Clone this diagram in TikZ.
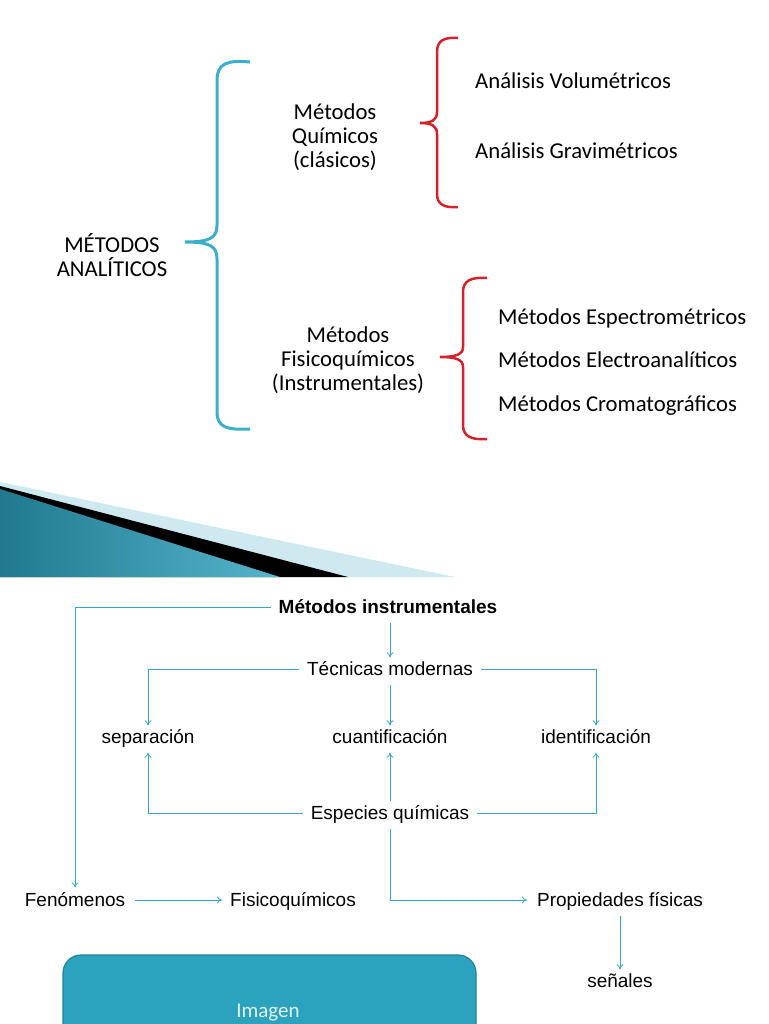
\documentclass[tikz,border=0pt]{standalone}
\usepackage{fontspec}
\setmainfont{Carlito}
\newfontfamily\arialf{Liberation Sans}
\usetikzlibrary{arrows.meta}
\definecolor{cy}{HTML}{3AA6C4}
\definecolor{bb}{HTML}{3AAECB}
\definecolor{rb}{HTML}{D6202C}
\definecolor{bx}{HTML}{2BA2BE}
\begin{document}
\begin{tikzpicture}[x=1pt,y=-1pt,
  tt/.style={font=\fontsize{22.7}{24}\selectfont,align=center,inner sep=1pt},
  tl/.style={font=\fontsize{22.7}{24}\selectfont,anchor=west,inner sep=0pt},
  bt/.style={font=\arialf\fontsize{19}{22}\selectfont,inner sep=2pt,text height=13pt,text depth=4pt},
  ar/.style={cy,line width=0.8pt,-{To[length=5pt,width=7pt]}}]
\useasboundingbox (0,0) rectangle (768,1024);
% braces
\draw[bb,line width=3pt] (250,62) .. controls (228,60) and (217,63) .. (217,80) -- (217,225) .. controls (217,238) and (210,242) .. (185,242) .. controls (210,242) and (217,246) .. (217,259) -- (217,412) .. controls (217,428) and (228,430) .. (250,429);
\draw[rb,line width=2.5pt] (458,38) .. controls (445,37) and (437,40) .. (437,52) -- (437,112) .. controls (437,120) and (432,123) .. (420,123) .. controls (432,123) and (437,126) .. (437,134) -- (437,194) .. controls (437,205) and (445,208) .. (458,207);
\draw[rb,line width=2.5pt] (487,278) .. controls (472,277) and (463,280) .. (463,292) -- (463,347) .. controls (463,354) and (457,357) .. (440,357) .. controls (457,357) and (463,360) .. (463,367) -- (463,425) .. controls (463,437) and (472,440) .. (487,439);
\node[tt] (ma) at (112,255) {MÉTODOS\\ANALÍTICOS};
\node[tt] (mq) at (335,137) {Métodos\\Químicos\\(clásicos)};
\node[tl] (av) at (475,81) {Análisis Volumétricos};
\node[tl] (ag) at (475,151) {Análisis Gravimétricos};
\node[tt] (mf) at (348,360) {Métodos\\Fisicoquímicos\\(Instrumentales)};
\node[tl] (me) at (498,318) {Métodos Espectrométricos};
\node[tl] (mel) at (498,360) {Métodos Electroanalíticos};
\node[tl] (mc) at (498,406) {Métodos Cromatográficos};
% wedge
\fill[cy!25] (0,482) -- (455,577) -- (0,577) -- cycle;
\fill[black] (0,486) -- (348,577) -- (0,577) -- cycle;
\shade[left color=bx!75!black, right color=bx!80!white] (0,489) -- (280,577) -- (0,577) -- cycle;
% bottom diagram
\node[bt,font=\arialf\bfseries\fontsize{19}{22}\selectfont] (mi) at (388,609) {Métodos instrumentales};
\node[bt] (tm) at (390,671) {Técnicas modernas};
\node[bt] (se) at (148,739) {separación};
\node[bt] (cu) at (390,739) {cuantificación};
\node[bt] (id) at (596,739) {identificación};
\node[bt] (eq) at (390,815) {Especies químicas};
\node[bt] (fe) at (75,902) {Fenómenos};
\node[bt] (fi) at (293,902) {Fisicoquímicos};
\node[bt] (pf) at (620,902) {Propiedades físicas};
\node[bt] (sn) at (620,983) {señales};
\draw[ar] ([yshift=-3pt]mi.south -| tm.north) -- ([yshift=3pt]tm.north);
\draw[ar] ([xshift=-6pt,yshift=2pt]tm.west) -| ([yshift=3pt]se.north);
\draw[ar] ([xshift=6pt,yshift=2pt]tm.east) -| ([yshift=3pt]id.north);
\draw[ar] ([yshift=-3pt]tm.south) -- ([yshift=3pt]cu.north);
\draw[ar] ([xshift=-6pt,yshift=2pt]eq.west) -| ([yshift=-3pt]se.south);
\draw[ar] ([xshift=6pt,yshift=2pt]eq.east) -| ([yshift=-3pt]id.south);
\draw[ar] ([yshift=3pt]eq.north) -- ([yshift=-3pt]cu.south);
\draw[ar] ([xshift=-6pt,yshift=2pt]mi.west) -| ([yshift=4pt]fe.north);
\draw[ar] ([xshift=8pt,yshift=2pt]fe.east) -- ([xshift=-6pt,yshift=2pt]fi.west);
\draw[ar] ([yshift=-3pt]eq.south) |- ([xshift=-8pt,yshift=2pt]pf.west);
\draw[ar] ([yshift=-3pt]pf.south) -- ([yshift=3pt]sn.north);
% box
\draw[draw=bx!80!black,fill=bx,line width=1.2pt,rounded corners=18pt] (63,955) rectangle (476,1045);
\node[font=\fontsize{21}{24}\selectfont,text=cy!15] (im) at (268,1013) {Imagen};
\end{tikzpicture}
\end{document}
